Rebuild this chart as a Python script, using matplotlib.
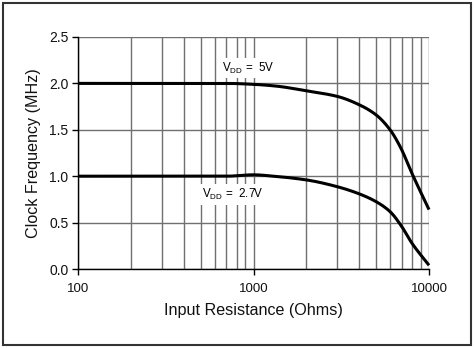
import numpy as np
import matplotlib.pyplot as plt
from matplotlib.patches import Rectangle
from matplotlib.ticker import LogLocator, FixedLocator, NullFormatter

plt.rcParams['font.family'] = ['Liberation Sans', 'DejaVu Sans']
plt.rcParams['mathtext.fontset'] = 'custom'
plt.rcParams['mathtext.rm'] = 'Liberation Sans'

# Input resistance (ohms) and clock frequency (MHz)
r_5v = [100, 300, 700, 1000, 1360, 2000, 3000, 4000, 5000, 6000, 6840, 8130, 10000]
f_5v = [2.00, 2.00, 2.00, 1.99, 1.97, 1.92, 1.86, 1.77, 1.66, 1.50, 1.32, 1.00, 0.64]

r_27v = [100, 300, 700, 1000, 1300, 2000, 3000, 4000, 5000, 6000, 7000, 8000, 10000]
f_27v = [1.00, 1.00, 1.00, 1.015, 1.00, 0.96, 0.887, 0.81, 0.725, 0.618, 0.456, 0.277, 0.04]

y_ticks = [0.0, 0.5, 1.0, 1.5, 2.0, 2.5]
x_ticks = [100, 1000, 10000]

fig = plt.figure(figsize=(4.74, 3.48), dpi=100)
ax = fig.add_axes([0.1646, 0.227, 0.7405, 0.6667])


def smooth(xs, ys, n=300):
    lx = np.log10(xs)
    grid = np.linspace(lx[0], lx[-1], n)
    # monotone cubic (PCHIP) interpolation in log-x space
    h = np.diff(lx)
    d = np.diff(ys) / h
    m = np.zeros(len(lx))
    m[0], m[-1] = d[0], d[-1]
    for i in range(1, len(lx) - 1):
        if d[i - 1] * d[i] <= 0:
            m[i] = 0
        else:
            w1 = 2 * h[i] + h[i - 1]
            w2 = h[i] + 2 * h[i - 1]
            m[i] = (w1 + w2) / (w1 / d[i - 1] + w2 / d[i])
    idx = np.clip(np.searchsorted(lx, grid) - 1, 0, len(lx) - 2)
    t = (grid - lx[idx]) / h[idx]
    y0, y1 = np.array(ys)[idx], np.array(ys)[idx + 1]
    m0, m1 = m[idx] * h[idx], m[idx + 1] * h[idx]
    h00 = 2 * t**3 - 3 * t**2 + 1
    h10 = t**3 - 2 * t**2 + t
    h01 = -2 * t**3 + 3 * t**2
    h11 = t**3 - t**2
    return 10**grid, h00 * y0 + h10 * m0 + h01 * y1 + h11 * m1


for xs, ys in [(r_5v, f_5v), (r_27v, f_27v)]:
    sx, sy = smooth(xs, ys)
    ax.plot(sx, sy, color='black', lw=2.2, solid_capstyle='butt', zorder=3, clip_on=False)

ax.set_xscale('log')
ax.set_xlim(100, 10000)
ax.set_ylim(0, 2.5)

ax.xaxis.set_major_locator(FixedLocator(x_ticks))
ax.set_xticklabels([str(v) for v in x_ticks])
ax.xaxis.set_minor_locator(LogLocator(base=10, subs=np.arange(2, 10)))
ax.xaxis.set_minor_formatter(NullFormatter())
ax.set_yticks(y_ticks)
ax.set_yticklabels([f'{v:.1f}' for v in y_ticks])

ax.grid(which='major', axis='both', color='#707070', lw=1.0)
ax.grid(which='minor', axis='x', color='#707070', lw=1.0)
ax.set_axisbelow(True)

ax.tick_params(axis='both', which='major', direction='out', length=4, width=1, color='black',
               labelsize=10, labelcolor='#111111')
ax.tick_params(axis='x', which='major', pad=6, labelsize=9.5)
ax.tick_params(axis='x', which='minor', length=0)
ax.tick_params(axis='y', pad=3)

for side in ['top', 'right']:
    ax.spines[side].set_visible(False)
for side in ['left', 'bottom']:
    ax.spines[side].set_color('black')
    ax.spines[side].set_linewidth(1.0)

ax.set_xlabel('Input Resistance (Ohms)', fontsize=11.6, labelpad=6, color='#111111')
ax.set_ylabel('Clock Frequency (MHz)', fontsize=11.6, labelpad=6, color='#111111')

bbox = dict(facecolor='white', edgecolor='none', pad=2)
ax.text(931, 2.165, r'V$_{\mathregular{DD}}$ =  5V', fontsize=8.4, ha='center', va='center',
        bbox=bbox, zorder=4)
ax.text(764, 0.80, r'V$_{\mathregular{DD}}$ =  2.7V', fontsize=8.4, ha='center', va='center',
        bbox=bbox, zorder=4)

# outer frame around the whole figure
fig.patches.append(Rectangle((3 / 474, 3 / 348), 468 / 474, 342 / 348, transform=fig.transFigure,
                             fill=False, edgecolor='#333333', lw=1.5))

fig.savefig('out.png', dpi=100)
